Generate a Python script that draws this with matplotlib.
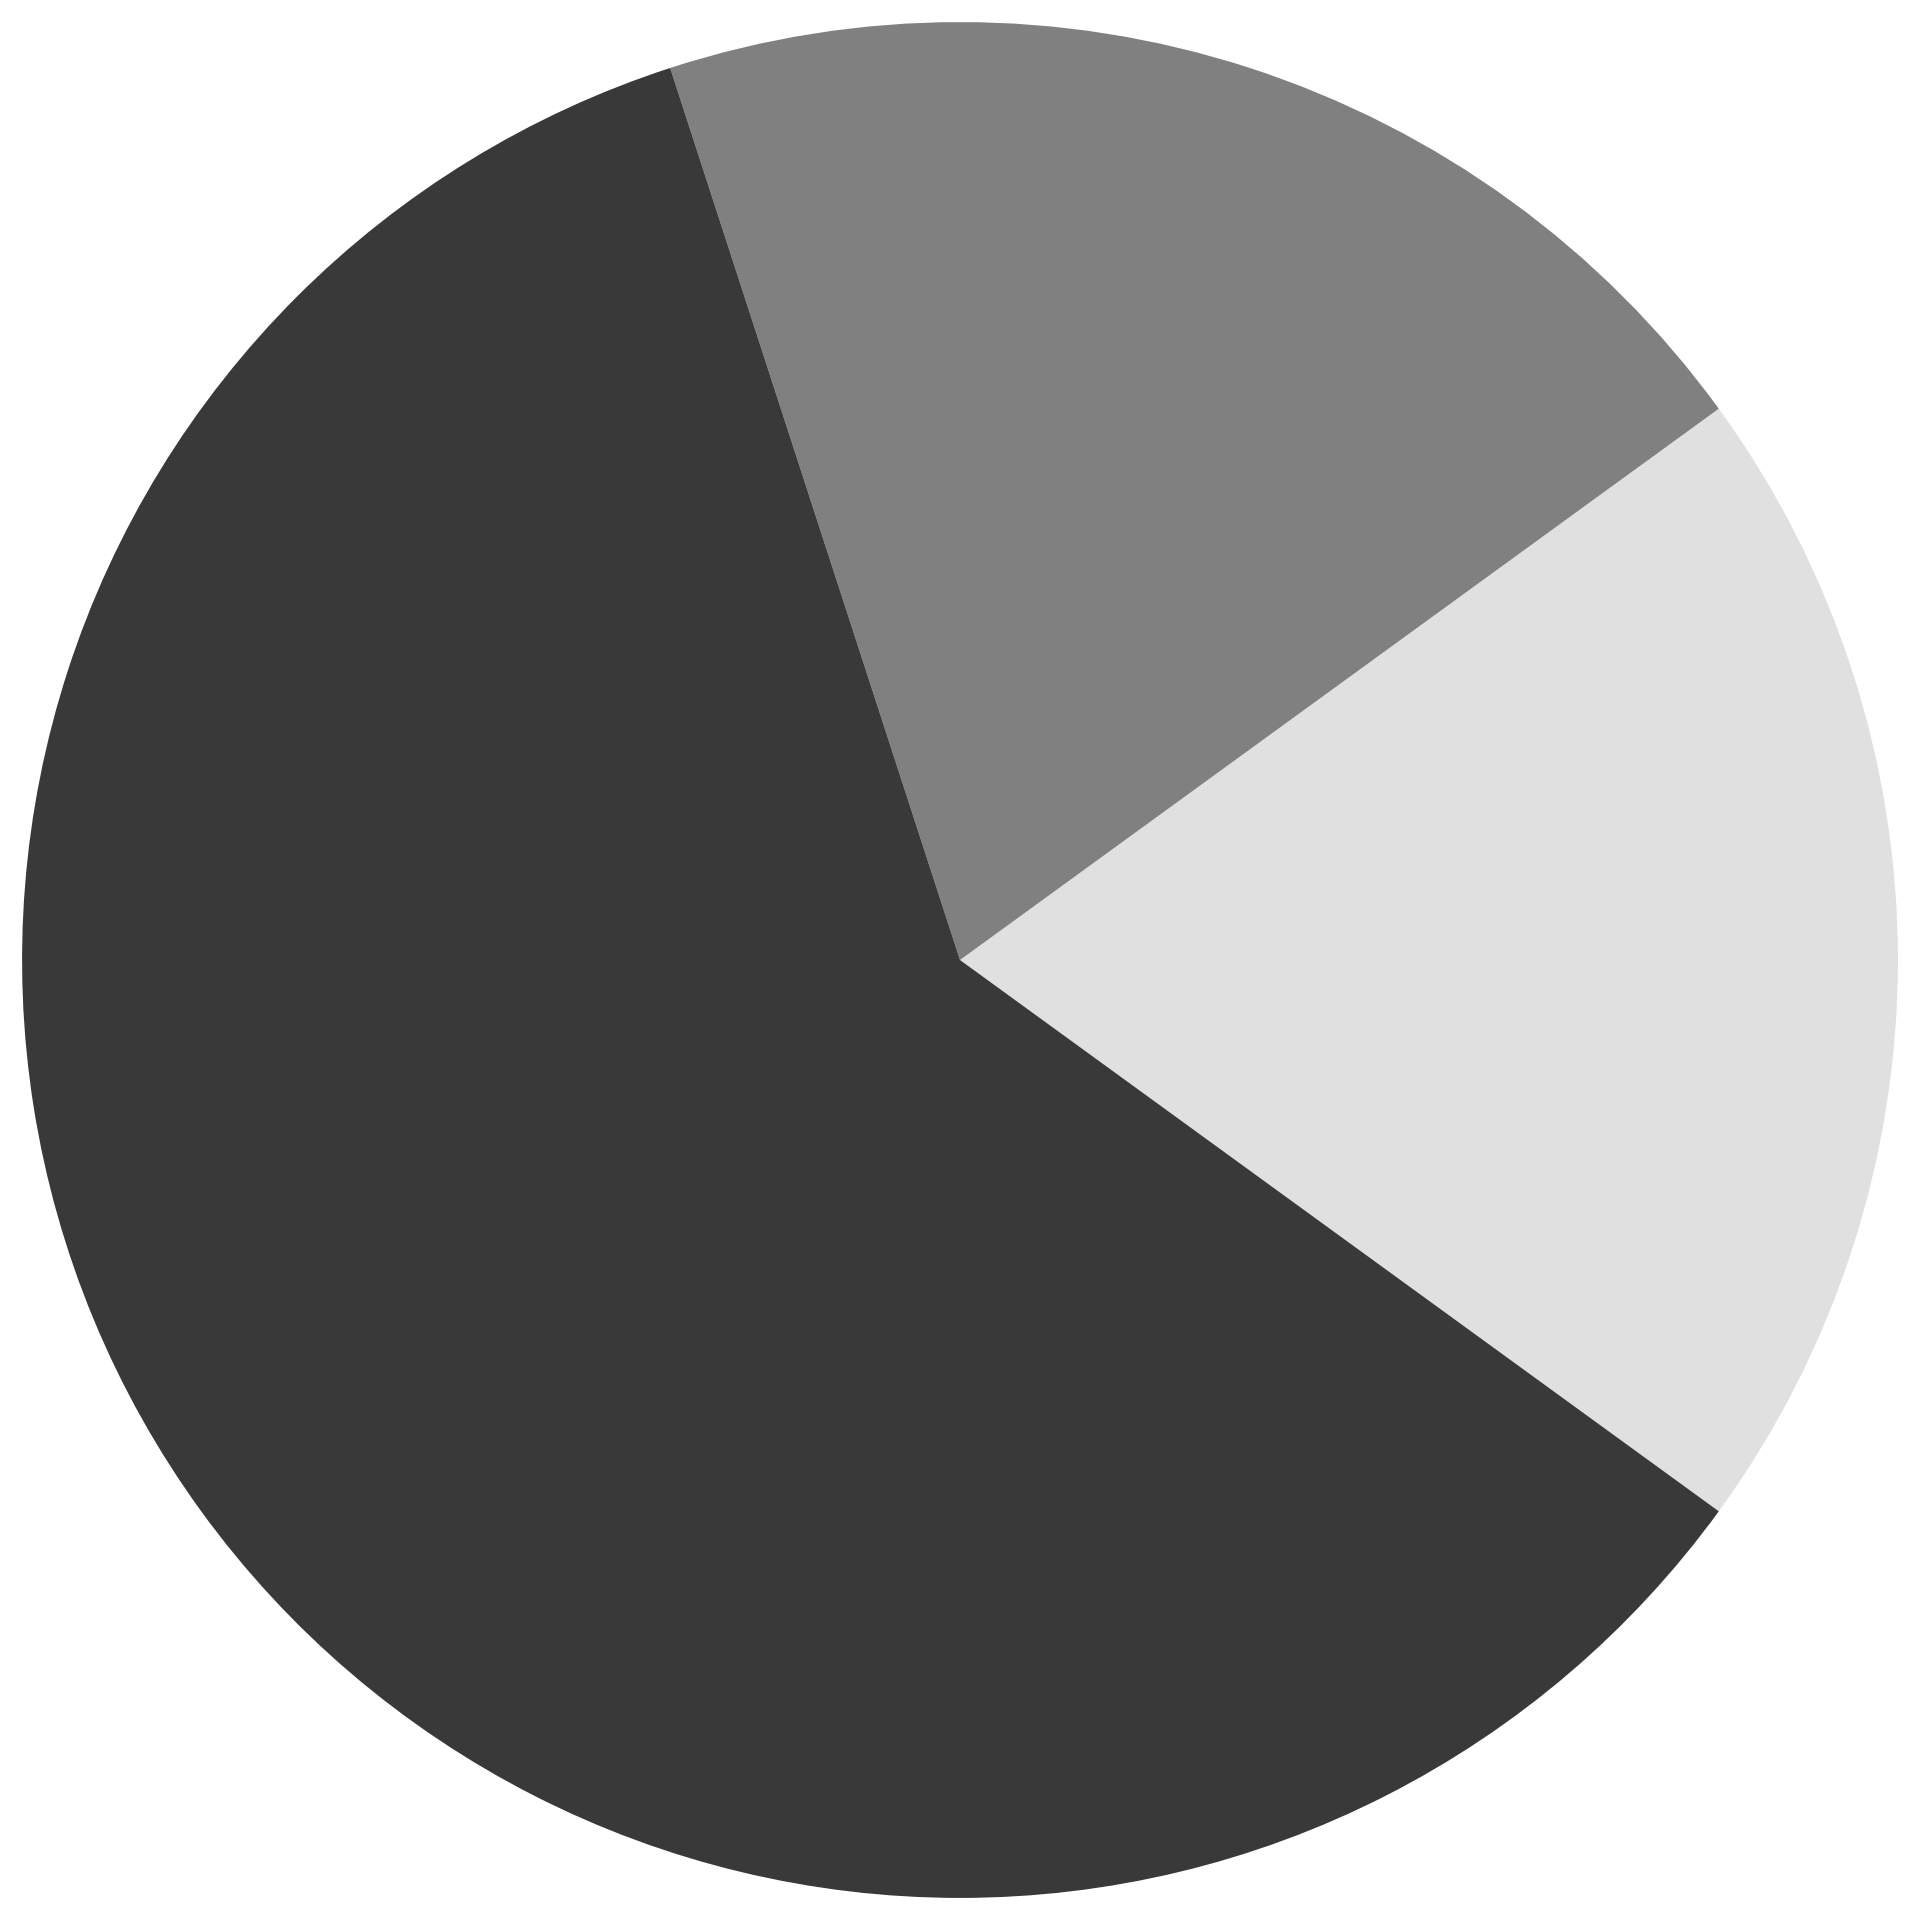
import matplotlib
matplotlib.use("Agg")
import matplotlib.pyplot as plt

# slice shares, counterclockwise from the lower-right edge
shares = [20, 20, 60]
colors = ["#e0e0e0", "#808080", "#393939"]

fig = plt.figure(figsize=(19.2, 19.2), dpi=100)
ax = fig.add_axes([0, 0, 1, 1])
ax.pie(shares, colors=colors, startangle=-36, counterclock=True,
       wedgeprops={"linewidth": 0})
ax.set_aspect("equal")
lim = 1 / 0.977
ax.set_xlim(-lim, lim)
ax.set_ylim(-lim, lim)
ax.axis("off")

fig.savefig("out.png", dpi=100, facecolor="white")
